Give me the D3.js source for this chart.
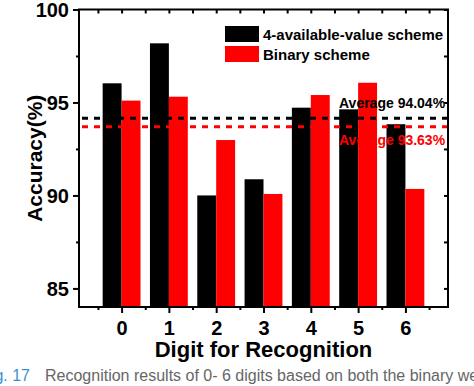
<!DOCTYPE html>
<html>
<head>
<meta charset="utf-8">
<script src="https://cdn.jsdelivr.net/npm/d3@7"></script>
<style>
  body { margin: 0; background: #fff; }
  svg { display: block; font-family: "Liberation Sans", Arial, sans-serif; }
</style>
</head>
<body>
<svg id="chart" width="474" height="386"></svg>
<script>
// Values
var digits = [0, 1, 2, 3, 4, 5, 6];
var fourValue = [96.03, 98.18, 90.0, 90.87, 94.72, 94.63, 93.83];
var binary = [95.1, 95.31, 92.98, 90.08, 95.4, 96.06, 90.35];
var seriesNames = ["4-available-value scheme", "Binary scheme"];
var averageLabels = ["Average 94.04%", "Average 93.63%"];
var averageLines = [94.15, 93.7];
var yMajorTicks = [85, 90, 95, 100];
var yMinorTicks = [87.5, 92.5, 97.5];
var xMinorTicks = [-0.5, 0.5, 1.5, 2.5, 3.5, 4.5, 5.5, 6.5];

var COLORS = ["#000000", "#ff0000"];

// plot box (note: "top" is a reserved window global, so use plot_*)
var plot_l = 79, plot_r = 448, plot_t = 9.5, plot_b = 307;

var svg = d3.select("#chart");

var x = d3.scaleLinear().domain([-0.9, 6.9]).range([plot_l, plot_r]);
var y = d3.scaleLinear().domain([84, 100]).range([plot_b, plot_t]);

// Bars: black to the left of the tick, red to the right
var barW = 0.4;
svg.append("g").selectAll("rect")
  .data(digits)
  .join("rect")
  .attr("x", function (d) { return x(d - barW); })
  .attr("y", function (d, i) { return y(fourValue[i]); })
  .attr("width", function (d) { return x(d) - x(d - barW); })
  .attr("height", function (d, i) { return y(84) - y(fourValue[i]); })
  .attr("fill", COLORS[0]);

svg.append("g").selectAll("rect")
  .data(digits)
  .join("rect")
  .attr("x", function (d) { return x(d); })
  .attr("y", function (d, i) { return y(binary[i]); })
  .attr("width", function (d) { return x(d + barW) - x(d); })
  .attr("height", function (d, i) { return y(84) - y(binary[i]); })
  .attr("fill", COLORS[1]);

// Average dashed lines
svg.append("g").selectAll("line")
  .data(averageLines)
  .join("line")
  .attr("x1", plot_l + 3)
  .attr("x2", plot_r)
  .attr("y1", function (d) { return y(d); })
  .attr("y2", function (d) { return y(d); })
  .attr("stroke", function (d, i) { return COLORS[i]; })
  .attr("stroke-width", 3)
  .attr("stroke-dasharray", "6,6");

// Average labels
var avgLabelY = [108, 145];
svg.append("g").selectAll("text")
  .data(averageLabels)
  .join("text")
  .attr("x", 339)
  .attr("y", function (d, i) { return avgLabelY[i]; })
  .attr("fill", function (d, i) { return COLORS[i]; })
  .attr("font-size", 14)
  .attr("font-weight", "bold")
  .text(function (d) { return d; });

// Axes
function style_axis(g) {
  g.select(".domain").remove();
  g.selectAll("line").attr("stroke", "#000").attr("stroke-width", 2);
  g.selectAll("text")
    .attr("fill", "#000")
    .attr("font-size", 20)
    .attr("font-weight", "bold")
    .attr("font-family", "'Liberation Sans', Arial, sans-serif");
}

svg.append("g")
  .attr("transform", "translate(" + plot_l + ",0)")
  .call(d3.axisLeft(y).tickValues(yMajorTicks).tickSize(6).tickPadding(4).tickFormat(d3.format("d")))
  .call(style_axis)
  .selectAll("text").attr("dy", "0.36em");

svg.append("g")
  .attr("transform", "translate(" + plot_l + ",0)")
  .call(d3.axisLeft(y).tickValues(yMinorTicks).tickSize(3).tickFormat(""))
  .call(style_axis);

svg.append("g")
  .attr("transform", "translate(" + plot_r + ",0)")
  .call(d3.axisRight(y).tickValues(yMajorTicks.concat(yMinorTicks)).tickSize(-4).tickFormat(""))
  .call(style_axis);

svg.append("g")
  .attr("transform", "translate(0," + plot_b + ")")
  .call(d3.axisBottom(x).tickValues(digits).tickSize(6).tickFormat(d3.format("d")))
  .call(style_axis)
  .selectAll("text").attr("y", 14).attr("dy", "0.71em");

svg.append("g")
  .attr("transform", "translate(0," + plot_b + ")")
  .call(d3.axisBottom(x).tickValues(xMinorTicks).tickSize(3).tickFormat(""))
  .call(style_axis);

svg.append("g")
  .attr("transform", "translate(0," + plot_t + ")")
  .call(d3.axisTop(x).tickValues(digits.concat(xMinorTicks)).tickSize(-4).tickFormat(""))
  .call(style_axis);

// Frame
svg.append("rect")
  .attr("x", plot_l)
  .attr("y", plot_t)
  .attr("width", plot_r - plot_l)
  .attr("height", plot_b - plot_t)
  .attr("fill", "none")
  .attr("stroke", "#000")
  .attr("stroke-width", 2);

// Axis titles
svg.append("text")
  .attr("x", (plot_l + plot_r) / 2)
  .attr("y", 357)
  .attr("text-anchor", "middle")
  .attr("font-size", 22)
  .attr("font-weight", "bold")
  .text("Digit for Recognition");

svg.append("text")
  .attr("transform", "translate(42," + (plot_t + plot_b) / 2 + ") rotate(-90)")
  .attr("text-anchor", "middle")
  .attr("font-size", 21)
  .attr("font-weight", "bold")
  .text("Accuracy(%)");

// Legend
var legend = svg.append("g").attr("transform", "translate(225,26)");
legend.selectAll("rect")
  .data(seriesNames)
  .join("rect")
  .attr("x", 0)
  .attr("y", function (d, i) { return i * 20; })
  .attr("width", 34)
  .attr("height", 16)
  .attr("fill", function (d, i) { return COLORS[i]; });
legend.selectAll("text")
  .data(seriesNames)
  .join("text")
  .attr("x", 38)
  .attr("y", function (d, i) { return 14 + i * 20; })
  .attr("font-size", 15)
  .attr("font-weight", "bold")
  .text(function (d) { return d; });

// Caption, cut off by the bottom edge
svg.append("text")
  .attr("x", 30)
  .attr("y", 381)
  .attr("text-anchor", "end")
  .attr("font-size", 16)
  .attr("fill", "#3b8fd6")
  .text("Fig. 17");
svg.append("text")
  .attr("x", 45)
  .attr("y", 381)
  .attr("font-size", 16)
  .attr("fill", "#666")
  .text("Recognition results of 0- 6 digits based on both the binary weights");
</script>
</body>
</html>
